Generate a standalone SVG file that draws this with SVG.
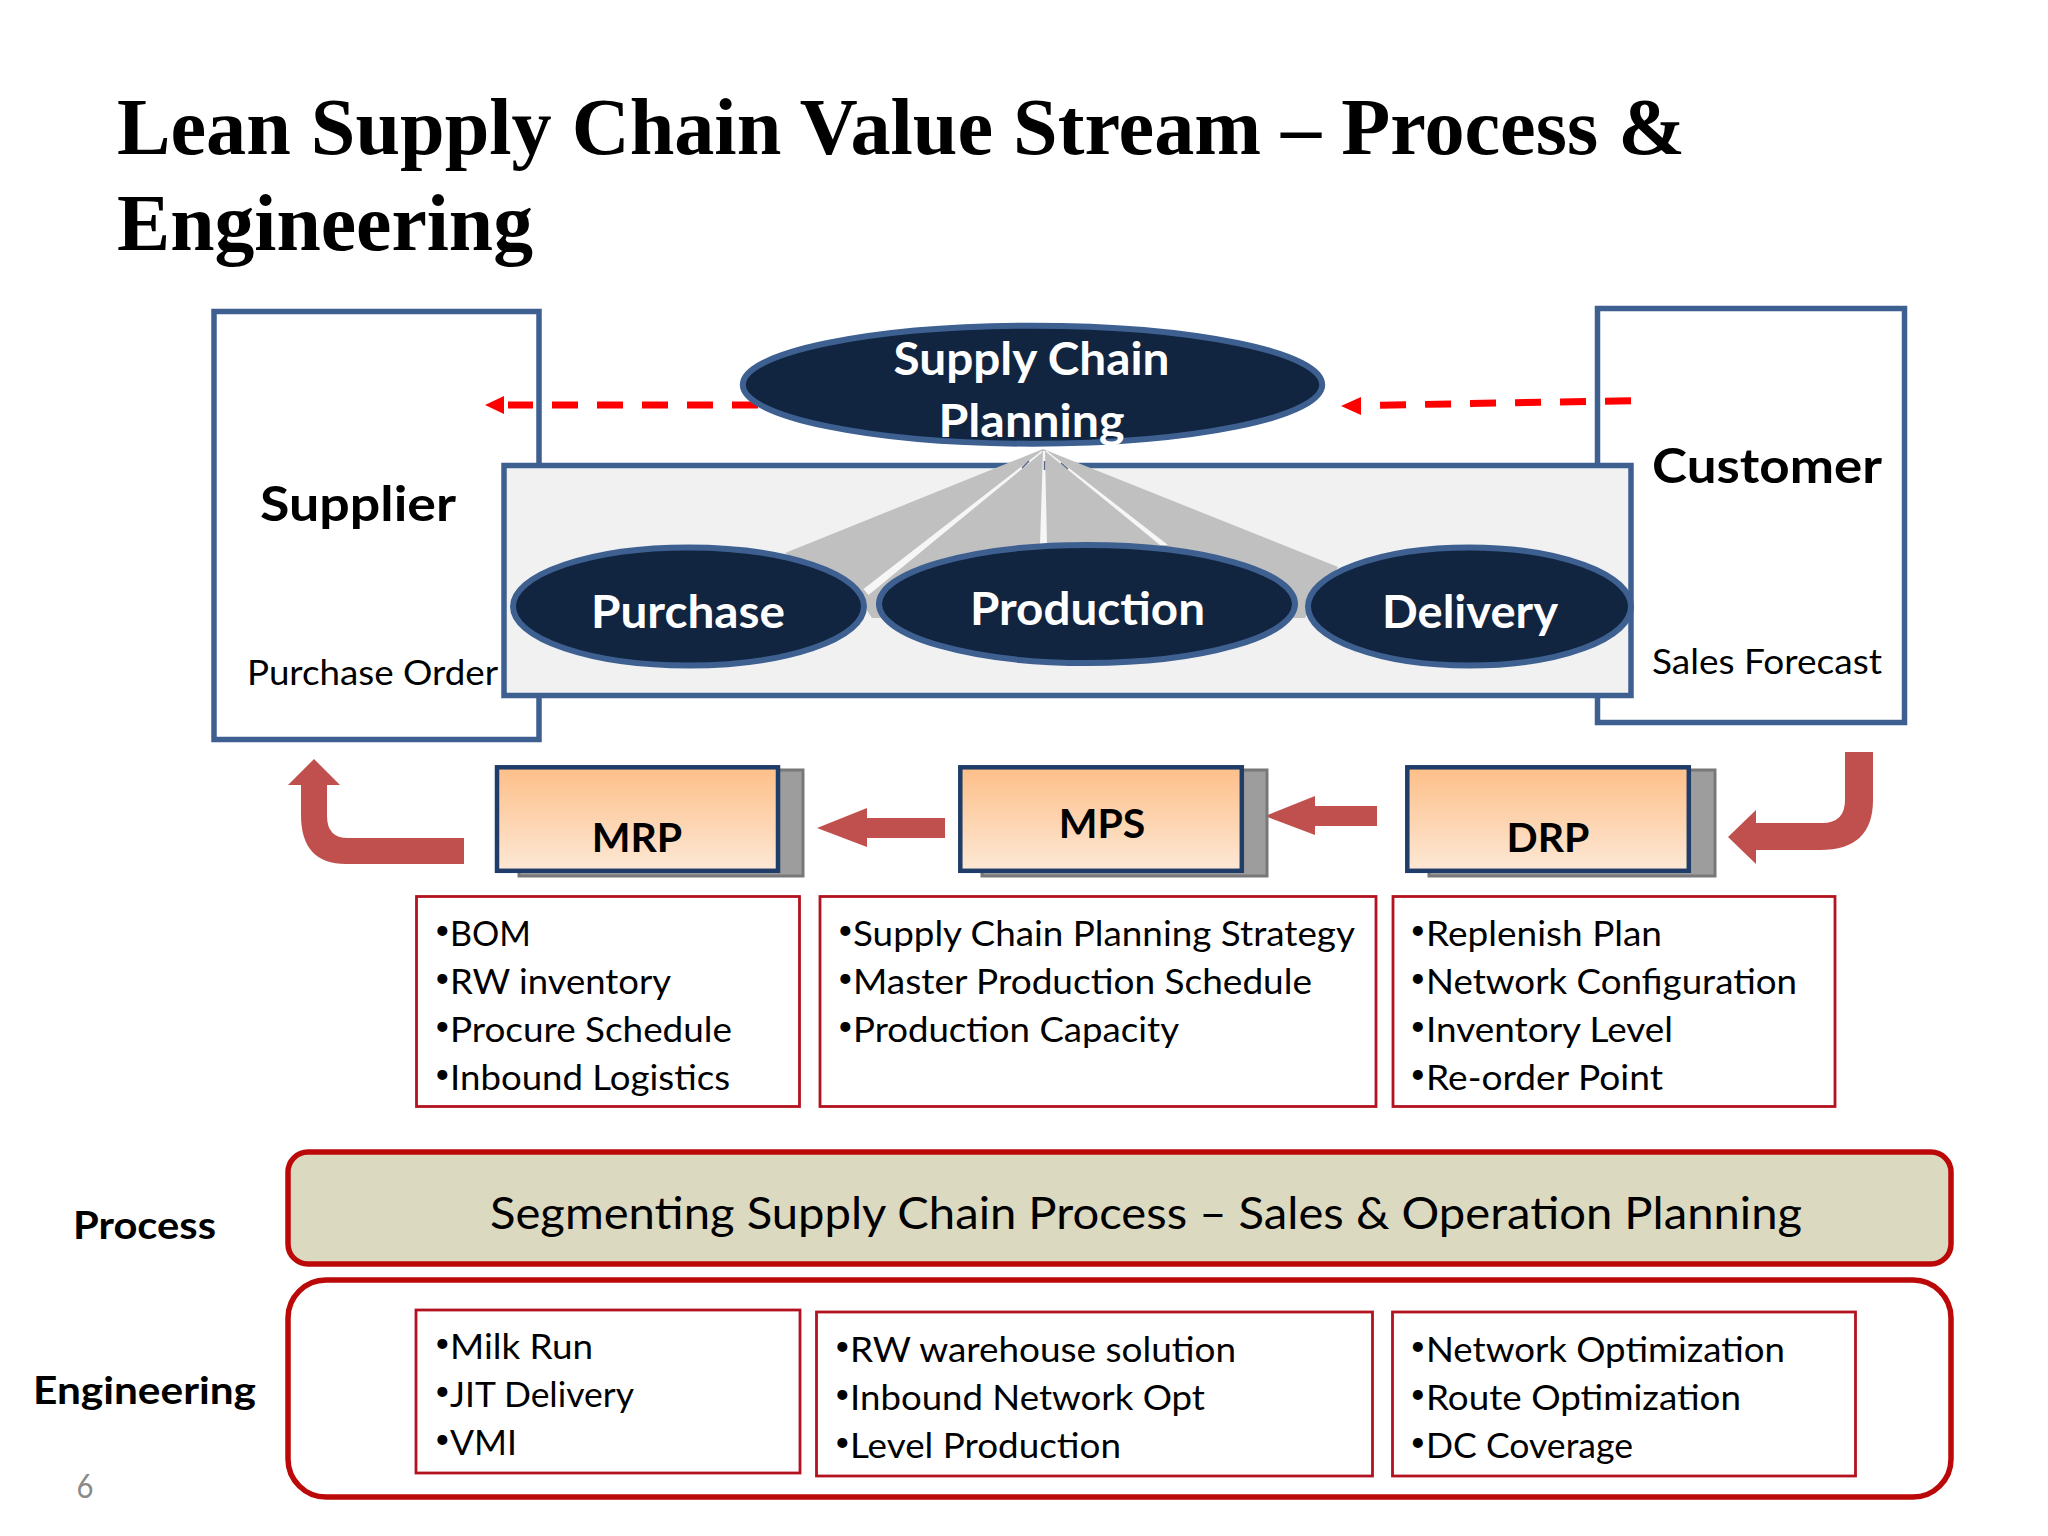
<svg xmlns="http://www.w3.org/2000/svg" width="2048" height="1536" viewBox="0 0 2048 1536">
<style>
text{font-family:"Lato","Open Sans","Liberation Sans",sans-serif;fill:#000;font-size:35px}
.title{font-family:"Liberation Serif","Times New Roman",serif;font-weight:700;font-size:80px}
.b{font-weight:700}
.h{font-weight:700;font-size:48px}
.w{font-weight:700;font-size:46px;fill:#fff}
.m{font-weight:700;font-size:41px;text-anchor:middle}
.bu{font-size:27px}
.big{stroke:#3d6091;stroke-width:5.5;fill:#fff}
.ell{stroke:#3d6091;stroke-width:6;fill:#112540}
.box{stroke:#1f3d68;stroke-width:4.5;fill:url(#peach)}
.sh{stroke:#787878;stroke-width:3;fill:#9d9d9d}
.list{stroke:#b3121f;stroke-width:2.8;fill:#fff}
.band{stroke:#bb0808;stroke-width:5.5}
.arr{fill:#c0504d;stroke:none}
.dash{stroke:#f00;stroke-width:7;fill:none;stroke-dasharray:26 19}
.tip{fill:#f00}
.fan{fill:#c0c0c0}
.gap{fill:#f6f6f6}
.tick{stroke:#5a6a85;stroke-width:1.5;fill:none}
</style>
<defs>
<linearGradient id="peach" x1="0" y1="0" x2="0" y2="1">
<stop offset="0" stop-color="#fdbf88"/>
<stop offset="1" stop-color="#fde8d6"/>
</linearGradient>
</defs>
<rect width="2048" height="1536" fill="#fff"/>
<g id="title">
<text class="title" x="117" y="154" textLength="1568" lengthAdjust="spacingAndGlyphs">Lean Supply Chain Value Stream – Process &amp;</text>
<text class="title" x="117" y="250" textLength="416" lengthAdjust="spacingAndGlyphs">Engineering</text>
</g>
<g id="supplier">
<rect class="big" x="214" y="311.5" width="325" height="428"/>
<text class="h" x="260" y="521" textLength="196" lengthAdjust="spacingAndGlyphs">Supplier</text>
</g>
<g id="customer">
<rect class="big" x="1597.5" y="308.5" width="307" height="414"/>
<text class="h" x="1652" y="483" textLength="230" lengthAdjust="spacingAndGlyphs">Customer</text>
</g>
<g id="planning-frame">
<rect x="504" y="465.5" width="1127" height="230" stroke="#3d6091" stroke-width="5.5" fill="#f1f1f2"/>
<text x="247" y="685" textLength="251" lengthAdjust="spacingAndGlyphs">Purchase Order</text>
<text x="1652" y="674" textLength="230" lengthAdjust="spacingAndGlyphs">Sales Forecast</text>
</g>
<g id="connectors">
<polygon class="fan" points="1043,449 785,553 860,600 872,618 1305,618 1338,567"/>
<polygon class="gap" points="1041.5,451 1042.5,452 868.5,595 863.5,589"/>
<polygon class="gap" points="1043,451 1045,451 1047,545 1040,545"/>
<polygon class="gap" points="1045,451 1047,451 1168,545 1160,545"/>
<path class="tick" d="M1029 461L1022 468M1044.5 461V470M1061 463L1068 469"/>
<path class="dash" d="M758 405H508"/>
<polygon class="tip" points="485,405 504,396 504,414"/>
<path class="dash" d="M1631 400.7L1362 405.5"/>
<polygon class="tip" points="1341,406 1361,397 1361,415"/>
<path class="arr" d="M464 838H348Q327 838 327 816V785H340L314 759L288 785H301V815Q301 864 346 864H464Z"/>
<polygon class="arr" points="817,828 867,808 867,818 945,818 945,838 867,838 867,847"/>
<polygon class="arr" points="1265,816 1315,796 1315,806 1377,806 1377,826 1315,826 1315,835"/>
<path class="arr" d="M1873 752H1845V800Q1845 823 1822 823H1756V810L1728 837L1756 864V850H1820Q1873 850 1873 800Z"/>
</g>
<g id="supply-chain-planning">
<ellipse class="ell" cx="1032.5" cy="384.7" rx="289.7" ry="59"/>
<text class="w" x="893.5" y="375" textLength="276" lengthAdjust="spacingAndGlyphs">Supply Chain</text>
<text class="w" x="938.5" y="437" textLength="186" lengthAdjust="spacingAndGlyphs">Planning</text>
</g>
<g id="purchase">
<ellipse class="ell" cx="688.5" cy="606.5" rx="175.5" ry="59"/>
<text class="w" x="591" y="628" textLength="194" lengthAdjust="spacingAndGlyphs">Purchase</text>
</g>
<g id="production">
<ellipse class="ell" cx="1087" cy="604" rx="208" ry="59"/>
<text class="w" x="970" y="625" textLength="235" lengthAdjust="spacingAndGlyphs">Production</text>
</g>
<g id="delivery">
<ellipse class="ell" cx="1469.5" cy="606.5" rx="161.5" ry="59"/>
<text class="w" x="1382" y="628" textLength="176" lengthAdjust="spacingAndGlyphs">Delivery</text>
</g>
<g id="mrp">
<rect class="sh" x="519" y="770" width="284" height="106"/>
<rect class="box" x="497" y="767.3" width="281" height="103.5"/>
<text class="m" x="637" y="852">MRP</text>
</g>
<g id="mps">
<rect class="sh" x="982" y="770" width="285" height="106"/>
<rect class="box" x="960.3" y="767.3" width="281.5" height="103.5"/>
<text class="m" x="1102" y="838">MPS</text>
</g>
<g id="drp">
<rect class="sh" x="1429" y="770" width="286" height="106"/>
<rect class="box" x="1407.3" y="767.3" width="281.5" height="103.5"/>
<text class="m" x="1548" y="852">DRP</text>
</g>
<g id="mrp-list">
<rect class="list" x="416.5" y="896.5" width="383" height="210"/>
<text><tspan class="bu" x="434.5" y="939">•</tspan><tspan x="450" y="946" textLength="81" lengthAdjust="spacingAndGlyphs">BOM</tspan></text>
<text><tspan class="bu" x="434.5" y="987">•</tspan><tspan x="450" y="994" textLength="221" lengthAdjust="spacingAndGlyphs">RW inventory</tspan></text>
<text><tspan class="bu" x="434.5" y="1035">•</tspan><tspan x="450" y="1042" textLength="282" lengthAdjust="spacingAndGlyphs">Procure Schedule</tspan></text>
<text><tspan class="bu" x="434.5" y="1083">•</tspan><tspan x="450" y="1090" textLength="280" lengthAdjust="spacingAndGlyphs">Inbound Logistics</tspan></text>
</g>
<g id="mps-list">
<rect class="list" x="820" y="896.5" width="556" height="210"/>
<text><tspan class="bu" x="837.5" y="939">•</tspan><tspan x="853" y="946" textLength="502" lengthAdjust="spacingAndGlyphs">Supply Chain Planning Strategy</tspan></text>
<text><tspan class="bu" x="837.5" y="987">•</tspan><tspan x="853" y="994" textLength="459" lengthAdjust="spacingAndGlyphs">Master Production Schedule</tspan></text>
<text><tspan class="bu" x="837.5" y="1035">•</tspan><tspan x="853" y="1042" textLength="326" lengthAdjust="spacingAndGlyphs">Production Capacity</tspan></text>
</g>
<g id="drp-list">
<rect class="list" x="1393" y="896.5" width="442" height="210"/>
<text><tspan class="bu" x="1410" y="939">•</tspan><tspan x="1426" y="946" textLength="236" lengthAdjust="spacingAndGlyphs">Replenish Plan</tspan></text>
<text><tspan class="bu" x="1410" y="987">•</tspan><tspan x="1426" y="994" textLength="371" lengthAdjust="spacingAndGlyphs">Network Configuration</tspan></text>
<text><tspan class="bu" x="1410" y="1035">•</tspan><tspan x="1426" y="1042" textLength="247" lengthAdjust="spacingAndGlyphs">Inventory Level</tspan></text>
<text><tspan class="bu" x="1410" y="1083">•</tspan><tspan x="1426" y="1090" textLength="237" lengthAdjust="spacingAndGlyphs">Re-order Point</tspan></text>
</g>
<g id="process">
<text class="b" x="73" y="1239" style="font-size:38px" textLength="143" lengthAdjust="spacingAndGlyphs">Process</text>
<rect class="band" x="288" y="1152" width="1663" height="112" rx="20" fill="#dcd9c1"/>
<text x="490" y="1229" style="font-size:44px" textLength="1312" lengthAdjust="spacingAndGlyphs">Segmenting Supply Chain Process – Sales &amp; Operation Planning</text>
</g>
<g id="engineering">
<text class="b" x="33" y="1404" style="font-size:38px" textLength="223" lengthAdjust="spacingAndGlyphs">Engineering</text>
<rect class="band" x="288" y="1280" width="1663" height="217" rx="38" fill="#fff"/>
<rect class="list" x="416" y="1310" width="384" height="163"/>
<text><tspan class="bu" x="434.5" y="1352">•</tspan><tspan x="450" y="1359" textLength="143" lengthAdjust="spacingAndGlyphs">Milk Run</tspan></text>
<text><tspan class="bu" x="434.5" y="1400">•</tspan><tspan x="450" y="1407" textLength="184" lengthAdjust="spacingAndGlyphs">JIT Delivery</tspan></text>
<text><tspan class="bu" x="434.5" y="1448">•</tspan><tspan x="450" y="1455" textLength="67" lengthAdjust="spacingAndGlyphs">VMI</tspan></text>
<rect class="list" x="816.5" y="1312" width="556" height="164"/>
<text><tspan class="bu" x="834.5" y="1355">•</tspan><tspan x="850" y="1362" textLength="386" lengthAdjust="spacingAndGlyphs">RW warehouse solution</tspan></text>
<text><tspan class="bu" x="834.5" y="1403">•</tspan><tspan x="850" y="1410" textLength="355" lengthAdjust="spacingAndGlyphs">Inbound Network Opt</tspan></text>
<text><tspan class="bu" x="834.5" y="1451">•</tspan><tspan x="850" y="1458" textLength="271" lengthAdjust="spacingAndGlyphs">Level Production</tspan></text>
<rect class="list" x="1392.5" y="1312" width="463" height="164"/>
<text><tspan class="bu" x="1410" y="1355">•</tspan><tspan x="1426" y="1362" textLength="359" lengthAdjust="spacingAndGlyphs">Network Optimization</tspan></text>
<text><tspan class="bu" x="1410" y="1403">•</tspan><tspan x="1426" y="1410" textLength="315" lengthAdjust="spacingAndGlyphs">Route Optimization</tspan></text>
<text><tspan class="bu" x="1410" y="1451">•</tspan><tspan x="1426" y="1458" textLength="207" lengthAdjust="spacingAndGlyphs">DC Coverage</tspan></text>
</g>
<text x="76.5" y="1498" style="font-size:32px;fill:#8a8a8a" textLength="17" lengthAdjust="spacingAndGlyphs">6</text>
</svg>
